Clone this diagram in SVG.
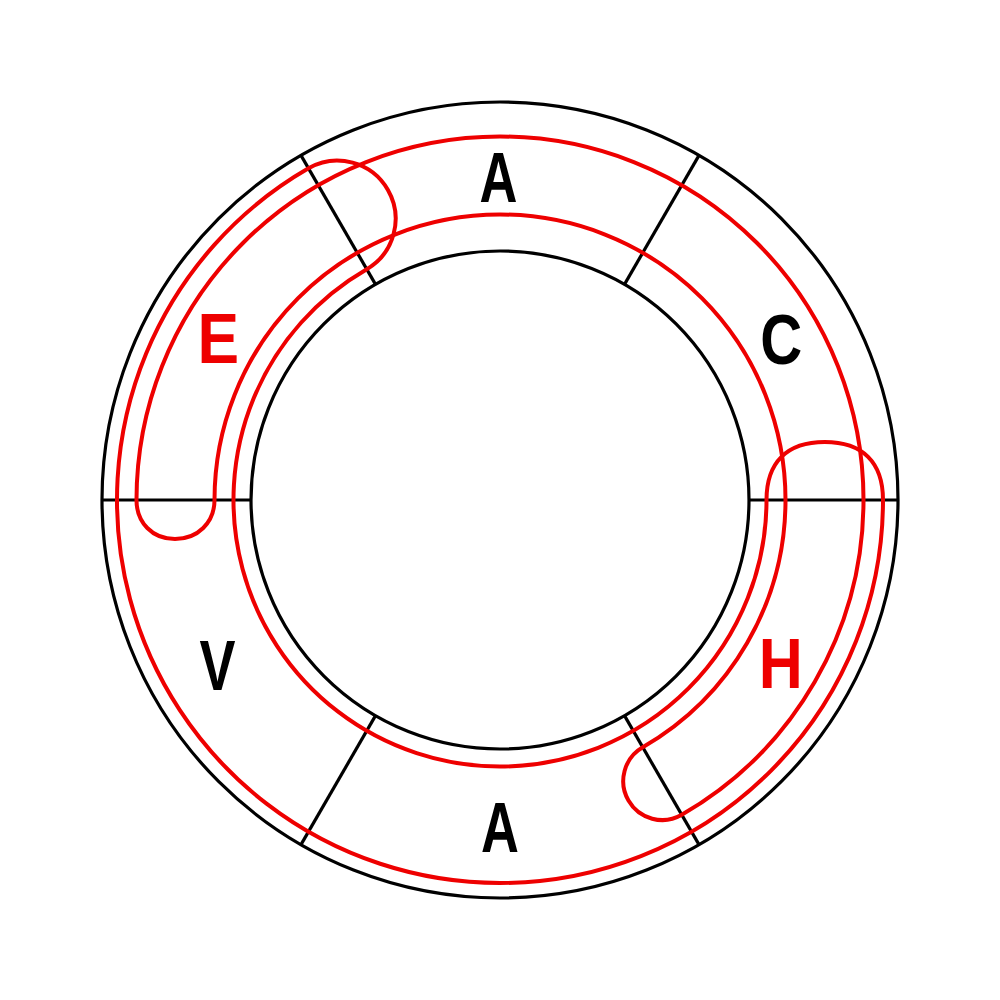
<svg xmlns="http://www.w3.org/2000/svg" width="1000" height="1000" viewBox="0 0 1000 1000">
  <style>
    .ring { fill: none; stroke: #000; stroke-width: 3.2; }
    .div { stroke: #000; stroke-width: 3.2; stroke-linecap: butt; }
    .loop { fill: none; stroke: #ee0000; stroke-width: 4; stroke-linejoin: round; }
    .lbl { font-family: "Liberation Sans", Arial, sans-serif; font-weight: bold; font-size: 70px; text-anchor: middle; }
    .blk { fill: #000; }
    .red { fill: #ee0000; }
  </style>
  <rect x="0" y="0" width="1000" height="1000" fill="#fff"/>
  <g id="ring">
    <circle class="ring" cx="500" cy="500" r="398"/>
    <circle class="ring" cx="500" cy="500" r="249"/>
    <line class="div" x1="749" y1="500" x2="898" y2="500"/>
    <line class="div" x1="624.5" y1="284.36" x2="699" y2="155.33"/>
    <line class="div" x1="375.5" y1="284.36" x2="301" y2="155.33"/>
    <line class="div" x1="251" y1="500" x2="102" y2="500"/>
    <line class="div" x1="375.5" y1="715.64" x2="301" y2="844.67"/>
    <line class="div" x1="624.5" y1="715.64" x2="699" y2="844.67"/>
  </g>
  <g id="connectors">
    <path id="loop-a" class="loop" d="M 366.75 269.2 A 266.5 266.5 0 0 0 500 766.5 A 266.5 266.5 0 0 0 766.5 500 C 766.5 462.3 786.9 442 824.75 442 C 862.6 442 883 462.3 883 500 A 383 383 0 0 1 500 883 A 383 383 0 0 1 308.5 168.31 A 58.25 58.25 0 0 1 366.75 269.2 Z"/>
    <path id="loop-b" class="loop" d="M 214.5 500 A 285.5 285.5 0 0 1 500 214.5 A 285.5 285.5 0 0 1 785.5 500 A 285.5 285.5 0 0 1 642.75 747.25 A 39 39 0 0 0 681.75 814.8 A 363.5 363.5 0 0 0 863.5 500 A 363.5 363.5 0 0 0 500 136.5 A 363.5 363.5 0 0 0 136.5 500 C 136.5 522.6 152.4 539 175 539 C 197.6 539 214.5 522.6 214.5 500 Z"/>
  </g>
  <g id="label-a-top"><text class="lbl blk" transform="translate(498.5,202) scale(0.75,1)" x="0" y="0">A</text></g>
  <g id="label-c"><text class="lbl blk" transform="translate(781.3,364) scale(0.83,1)" x="0" y="0">C</text></g>
  <g id="label-h"><text class="lbl red" transform="translate(780.8,688.3) scale(0.87,1)" x="0" y="0">H</text></g>
  <g id="label-a-bottom"><text class="lbl blk" transform="translate(500,851.7) scale(0.75,1)" x="0" y="0">A</text></g>
  <g id="label-v"><text class="lbl blk" transform="translate(217.5,690) scale(0.77,1)" x="0" y="0">V</text></g>
  <g id="label-e"><text class="lbl red" transform="translate(218.3,363) scale(0.89,1)" x="0" y="0">E</text></g>
</svg>
